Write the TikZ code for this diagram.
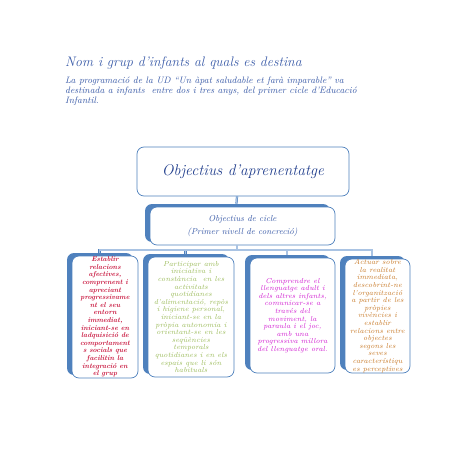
\documentclass[tikz,border=0pt]{standalone}
\usepackage{fontspec}
\usetikzlibrary{shadows}
\definecolor{boxblue}{HTML}{4F81BD}
\definecolor{linkblue}{HTML}{A9C3E3}
\definecolor{headblue}{HTML}{3A5BA8}
\definecolor{titleblue}{HTML}{23408E}
\definecolor{tred}{HTML}{C8143C}
\definecolor{tgreen}{HTML}{9BBB59}
\definecolor{tmag}{HTML}{D21ED2}
\definecolor{torange}{HTML}{C87A28}
\begin{document}
\begin{tikzpicture}[x=1pt,y=-1pt,
  plainbox/.style={draw=boxblue, line width=0.7pt, fill=white, rounded corners=7pt, inner sep=0pt, align=center},
  bandbox/.style={plainbox, general shadow={shadow xshift=-5pt, shadow yshift=3pt, fill=boxblue}},
  link/.style={draw=boxblue, line width=0.5pt, double=linkblue, double distance=1.2pt},
  leaffont/.style={font=\itshape\fontsize{7.2}{7.6}\selectfont}
]
\fill[white] (0,0) rectangle (452,452);
\useasboundingbox (0,0) rectangle (452,452);

\node[anchor=west, inner sep=0pt, font=\itshape\fontsize{13.8}{15}\selectfont, text=headblue] (head) at (65,63) {Nom i grup d’infants al quals es destina};
\node[anchor=north west, inner sep=0pt, align=left, font=\itshape\fontsize{9.3}{10}\selectfont, text=headblue] (para) at (65,77)
 {La programació de la UD “Un àpat saludable et farà imparable” va\\
  destinada a infants \ entre dos i tres anys, del primer cicle d’Educació\\
  Infantil.};

\node[plainbox, minimum width=212pt, minimum height=49pt, font=\itshape\fontsize{15.5}{17}\selectfont, text=titleblue] (top) at (243,171.5) {Objectius d’aprenentatge};

\node[bandbox, minimum width=185pt, minimum height=38pt, font=\itshape\fontsize{8.7}{13.5}\selectfont, text=headblue] (cyc) at (242.5,226) {Objectius de cicle\\(Primer nivell de concreció)};

\node[bandbox, minimum width=66pt, minimum height=122pt, font=\bfseries\itshape\fontsize{7}{7.6}\selectfont, text=tred] (b1) at (105,317)
 {Establir\\relacions\\afectives,\\comprenent i\\apreciant\\progressivame\\nt el seu\\entorn\\immediat,\\iniciant-se en\\ladquisició de\\comportament\\s socials que\\facilitin la\\integració en\\el grup};

\node[bandbox, minimum width=86pt, minimum height=120pt, leaffont, text=tgreen] (b2) at (191,317)
 {Participar amb\\iniciativa i\\constància \ en les\\activitats\\quotidianes\\d’alimentació, repòs\\i higiene personal,\\iniciant-se en la\\pròpia autonomia i\\orientant-se en les\\seqüències\\temporals\\quotidianes i en els\\espais que li són\\habituals};

\node[bandbox, minimum width=85pt, minimum height=115pt, leaffont, text=tmag] (b3) at (292.5,315.5)
 {Comprendre el\\llenguatge adult i\\dels altres infants,\\comunicar-se a\\través del\\moviment, la\\paraula i el joc,\\amb una\\progressiva millora\\del llenguatge oral.};

\node[bandbox, minimum width=65pt, minimum height=114pt, leaffont, text=torange] (b4) at (377.5,316)
 {Actuar sobre\\la realitat\\immediata,\\descobrint-ne\\l’organització\\a partir de les\\pròpies\\vivències i\\establir\\relacions entre\\objectes\\segons les\\seves\\característiqu\\es perceptives};

\coordinate (stemtop) at ([xshift=-6pt]top.south);
\coordinate (stembot) at ([xshift=-6pt,yshift=3pt]cyc.north);
\coordinate (cycout) at ([xshift=-5.5pt]cyc.south);
\coordinate (busy) at (0,250);
\coordinate (d1) at ([xshift=-5.5pt,yshift=3pt]b1.north);
\coordinate (d2) at ([xshift=-5.5pt,yshift=3pt]b2.north);
\coordinate (d3) at ([xshift=-5.5pt,yshift=3pt]b3.north);
\coordinate (d4) at ([xshift=-5.5pt,yshift=3pt]b4.north);

\draw[link] (stemtop) -- (stembot);
\draw[link] (cycout) -- (cycout |- busy);
\draw[link] (d2) -- (d2 |- busy);
\draw[link] (d3) -- (d3 |- busy);
\draw[link] (d1) -- (d1 |- busy) -- (d4 |- busy) -- (d4);
\end{tikzpicture}
\end{document}
